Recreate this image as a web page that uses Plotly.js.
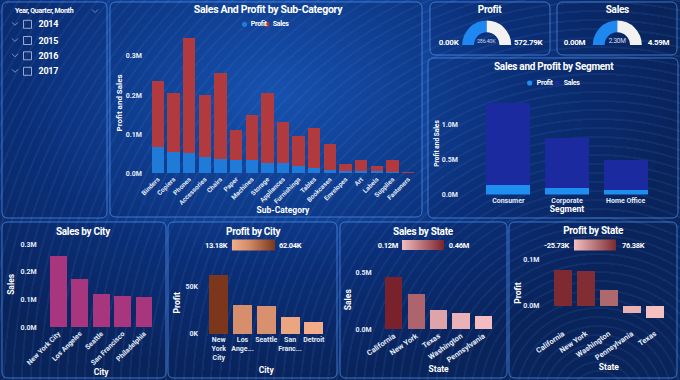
<!DOCTYPE html>
<html><head><meta charset="utf-8">
<script src="https://cdn.plot.ly/plotly-3.0.1.min.js"></script>
<style>
html,body{margin:0;padding:0;width:680px;height:380px;overflow:hidden;}
body{
  background:
    repeating-radial-gradient(circle at 88% 105%, rgba(110,170,255,0.10) 0px, rgba(110,170,255,0.10) 1.4px, rgba(0,0,0,0) 2.4px, rgba(0,0,0,0) 9px),
    radial-gradient(ellipse 60% 75% at 40% 25%, #1b5fc6 0%, #12479f 35%, #0c3480 62%, #0a275f 100%);
}
#chart{width:680px;height:380px;}
#chart .gtitle, #chart .annotation-text{letter-spacing:-0.3px;}
</style></head><body><div id="chart"></div>
<script>
// ---------------- data ----------------
const years = ['2014','2015','2016','2017'];

const subCategories = ['Binders','Copiers','Phones','Accessories','Chairs','Paper','Machines','Storage','Appliances','Furnishings','Tables','Bookcases','Envelopes','Art','Labels','Supplies','Fasteners'];
const subProfit = [68000,55000,51000,42000,36000,34000,33000,27000,26000,19000,14000,8000,7000,6000,5000,4000,1000];
const subSales  = [168000,150000,294000,157000,221000,78000,117000,178000,104000,77000,102000,67000,17000,27000,14000,30000,2400];
const subTickVals = [0,100000,200000,300000];
const subTickText = ['0.0M','0.1M','0.2M','0.3M'];

const gaugeNames = ['Profit','Sales'];
const gaugeValues = [286400, 2297200];
const gaugeMax = [572790, 4594400];

const segments = ['Consumer','Corporate','Home Office'];
const segProfit = [134000, 92000, 60000];
const segSales  = [1161000, 706000, 430000];
const segTickVals = [0,500000,1000000];
const segTickText = ['0.0M','0.5M','1.0M'];

const salesCities = ['New York City','Los Angeles','Seattle','San Francisco','Philadelphia'];
const citySales = [256370, 175850, 119540, 112670, 109080];
const citySalesTickVals = [0,100000,200000,300000];
const citySalesTickText = ['0.0M','0.1M','0.2M','0.3M'];

const profitCities = ['New York City','Los Angeles','Seattle','San Francisco','Detroit'];
const profitCityLabels = ['New<br>York<br>City','Los<br>Ange...','Seattle','San<br>Franc...','Detroit'];
const cityProfit = [62040, 30440, 29160, 17510, 13180];
const cityProfitTickVals = [0,50000];
const cityProfitTickText = ['0K','50K'];

const salesStates = ['California','New York','Texas','Washington','Pennsylvania'];
const stateSales = [457690, 310880, 170190, 138640, 116510];
const stateSalesTickVals = [0,500000];
const stateSalesTickText = ['0.0M','0.5M'];

const profitStates = ['California','New York','Washington','Pennsylvania','Texas'];
const stateProfit = [76380, 74040, 33400, -15560, -25730];
const stateProfitTickVals = [0,100000];
const stateProfitTickText = ['0.0M','0.1M'];

// ---------------- helpers ----------------
const W=680, H=380;
const FONT = 'Roboto, "Liberation Sans", sans-serif';
const WHITE = '#ffffff', TICK = '#e4ebf7';
const X = v => v/W, Y = v => 1 - v/H;
const xd = (a,b) => [a/W, b/W];
const yd = (top,bottom) => [1-bottom/H, 1-top/H];
const fmtK = v => (v/1000).toFixed(2)+'K';
const fmtM = v => (v/1e6).toFixed(2)+'M';

function rr(x0,y0,x1,y1,r){
  const a=v=>X(v).toFixed(5), b=v=>Y(v).toFixed(5);
  return `M${a(x0+r)},${b(y0)} L${a(x1-r)},${b(y0)} Q${a(x1)},${b(y0)} ${a(x1)},${b(y0+r)} L${a(x1)},${b(y1-r)} Q${a(x1)},${b(y1)} ${a(x1-r)},${b(y1)} L${a(x0+r)},${b(y1)} Q${a(x0)},${b(y1)} ${a(x0)},${b(y1-r)} L${a(x0)},${b(y0+r)} Q${a(x0)},${b(y0)} ${a(x0+r)},${b(y0)} Z`;
}
const tf = (s) => ({family:FONT, size:s, color:TICK, weight:'bold'});
const ttl = (t,s,so) => ({text:t, font:{family:FONT,size:s,color:WHITE,weight:'bold'}, standoff:so});

function ann(text,x,y,size,opts){
  return Object.assign({text, x:X(x), y:Y(y), xref:'paper', yref:'paper', showarrow:false,
    xanchor:'center', yanchor:'middle', font:{family:FONT,size,color:WHITE,weight:'bold'}}, opts||{});
}
function baseX(domain, n, o){
  return Object.assign({domain, range:[-0.5,n-0.5], showgrid:false, zeroline:false, showline:false, ticks:'', tickfont:tf(7), automargin:false, fixedrange:true}, o);
}
function baseY(domain, range, tv, tt, o){
  return Object.assign({domain, range, tickvals:tv, ticktext:tt, showgrid:false, zeroline:false, showline:false, ticks:'', tickfont:tf(7), automargin:false, fixedrange:true}, o);
}

// ---------------- traces ----------------
const traces = [];
traces.push({type:'bar', x:subCategories, y:subProfit, name:'Profit', marker:{color:'#1f7ad8'}, width:0.79, xaxis:'x', yaxis:'y', showlegend:false, hoverinfo:'skip'});
traces.push({type:'bar', x:subCategories, y:subSales, name:'Sales', marker:{color:'#b03a3e'}, width:0.79, xaxis:'x', yaxis:'y', showlegend:false, hoverinfo:'skip'});
traces.push({type:'bar', x:segments, y:segProfit, name:'Profit', marker:{color:'#1e8ff0'}, width:0.75, xaxis:'x2', yaxis:'y2', showlegend:false, hoverinfo:'skip'});
traces.push({type:'bar', x:segments, y:segSales, name:'Sales', marker:{color:'#1b2a9e'}, width:0.75, xaxis:'x2', yaxis:'y2', showlegend:false, hoverinfo:'skip'});
traces.push({type:'bar', x:salesCities, y:citySales, name:'Sales', marker:{color:'#a8367f'}, width:0.78, xaxis:'x3', yaxis:'y3', showlegend:false, hoverinfo:'skip'});
const cbase = {orientation:'h', xanchor:'left', yanchor:'middle', lenmode:'pixels', thicknessmode:'pixels', outlinewidth:0, showticklabels:false, ticks:'', xpad:0, ypad:0, borderwidth:0, bgcolor:'rgba(0,0,0,0)'};
traces.push({type:'bar', x:profitCities, y:cityProfit, name:'Profit', width:0.8, xaxis:'x4', yaxis:'y4', showlegend:false, hoverinfo:'skip',
  marker:{color:cityProfit, colorscale:[[0,'#f2ad88'],[0.4,'#d38a68'],[1,'#7b361b']], showscale:true,
    colorbar:Object.assign({}, cbase, {x:X(231.7), y:Y(245), len:42.6, thickness:11})}});
traces.push({type:'bar', x:salesStates, y:stateSales, name:'Sales', width:0.77, xaxis:'x5', yaxis:'y5', showlegend:false, hoverinfo:'skip',
  marker:{color:stateSales, colorscale:[[0,'#f2bcc0'],[1,'#7a222c']], showscale:true,
    colorbar:Object.assign({}, cbase, {x:X(402.3), y:Y(245), len:42.4, thickness:10})}});
traces.push({type:'bar', x:profitStates, y:stateProfit, name:'Profit', width:0.77, xaxis:'x6', yaxis:'y6', showlegend:false, hoverinfo:'skip',
  marker:{color:stateProfit, colorscale:[[0,'#f4c0c0'],[1,'#7d2a30']], showscale:true,
    colorbar:Object.assign({}, cbase, {x:X(573.7), y:Y(245), len:42.3, thickness:11})}});
// Gauges (half donuts): filled part starts at 9 o'clock and runs clockwise
const gaugeCenters = [[486.7,45],[617.3,45]];
const gaugeR = 24.5;
gaugeNames.forEach((g,i)=>{
  const [cx,cy] = gaugeCenters[i];
  traces.push({type:'pie', name:g, values:[gaugeValues[i], gaugeMax[i]-gaugeValues[i], gaugeMax[i]], sort:false,
    direction:'clockwise', rotation:-90, hole:0.52, textinfo:'none', hoverinfo:'skip', showlegend:false,
    marker:{colors:['#1e88f0','#f2f2f2','rgba(0,0,0,0)'], line:{width:0}},
    domain:{x:xd(cx-gaugeR, cx+gaugeR), y:yd(cy-gaugeR, cy+gaugeR)}});
});

// ---------------- shapes ----------------
const panelLine = 'rgba(80,140,230,0.75)', panelFill = 'rgba(4,22,75,0.18)';
const panels = [[2,2,107,218],[110,2,422,217],[430,2,550,55],[557,2,677,55],[428,58,678,218],
                [2,222,166,378],[168,222,337,378],[340,222,507,378],[509,222,677,378]];
const shapes = panels.map(p=>({type:'path', xref:'paper', yref:'paper', path:rr(p[0],p[1],p[2],p[3],6),
  line:{color:panelLine, width:1}, fillcolor:panelFill, layer:'below'}));
function chevron(cx,cy,w,h,col){
  return {type:'path', xref:'paper', yref:'paper',
    path:`M${X(cx-w/2)},${Y(cy-h/2)} L${X(cx)},${Y(cy+h/2)} L${X(cx+w/2)},${Y(cy-h/2)}`,
    line:{color:col, width:1}};
}
function legendDot(cx,cy,col){
  const r=2.6;
  return {type:'circle', xref:'paper', yref:'paper', x0:X(cx-r), x1:X(cx+r), y0:Y(cy+r), y1:Y(cy-r),
    fillcolor:col, line:{width:0}};
}
shapes.push(chevron(95,11,6,3,'rgba(170,190,220,0.6)'));
const yearY = [24.3, 40.5, 55.8, 71.3];
years.forEach((yv,i)=>{
  shapes.push(chevron(15,yearY[i]-0.5,6,3,'rgba(170,190,220,0.7)'));
  shapes.push({type:'rect', xref:'paper', yref:'paper', x0:X(23.5), x1:X(31.5), y0:Y(yearY[i]-4), y1:Y(yearY[i]+4),
    line:{color:'rgba(190,200,220,0.8)', width:1}, fillcolor:'rgba(0,0,0,0)'});
});
shapes.push(legendDot(244.5,24.3,'#1f7ad8'));
shapes.push(legendDot(266.8,24.3,'#b03a3e'));
shapes.push(legendDot(529.7,83,'#1e8ff0'));
shapes.push(legendDot(557.3,83,'#1b2a9e'));

// ---------------- annotations ----------------
const annotations = [];
annotations.push(ann('Year, Quarter, Month', 10, 11, 7, {xanchor:'left'}));
years.forEach((yv,i)=> annotations.push(ann(yv, 35.5, yearY[i], 9, {xanchor:'left'})));

annotations.push(ann('Profit', 248.3, 24.3, 7, {xanchor:'left'}));
annotations.push(ann('Sales', 270, 24.3, 7, {xanchor:'left'}));
annotations.push(ann('Sales and Profit by Segment', 554, 66.5, 10));
annotations.push(ann('Profit', 533.5, 83, 7, {xanchor:'left'}));
annotations.push(ann('Sales', 561, 83, 7, {xanchor:'left'}));

annotations.push(ann(gaugeNames[0], 489.7, 9.5, 10));
annotations.push(ann(gaugeNames[1], 617.3, 9.5, 10));
annotations.push(ann(fmtK(0), 448.7, 42.7, 8));
annotations.push(ann(fmtK(gaugeValues[0]), 486.7, 40.5, 5.5, {font:{family:FONT,size:5.5,color:'#c8d2e4'}}));
annotations.push(ann(fmtK(gaugeMax[0]), 528, 42.7, 8));
annotations.push(ann(fmtM(0), 574.7, 42.7, 8));
annotations.push(ann(fmtM(gaugeValues[1]), 617.3, 40.5, 6.5, {font:{family:FONT,size:6.5,color:'#d6deec'}}));
annotations.push(ann(fmtM(gaugeMax[1]), 658, 42.7, 8));

annotations.push(ann('Sales by City', 83.3, 231, 10));
annotations.push(ann('Profit by City', 253.3, 231, 10));
annotations.push(ann('Sales by State', 423, 231, 10));
annotations.push(ann('Profit by State', 593.3, 230.5, 10));

annotations.push(ann(fmtK(Math.min(...cityProfit)), 230, 245, 7.5, {xanchor:'right'}));
annotations.push(ann(fmtK(Math.max(...cityProfit)), 276, 245, 7.5, {xanchor:'left'}));
annotations.push(ann(fmtM(Math.min(...stateSales)), 400.5, 245, 7.5, {xanchor:'right'}));
annotations.push(ann(fmtM(Math.max(...stateSales)), 446.3, 245, 7.5, {xanchor:'left'}));
annotations.push(ann(fmtK(Math.min(...stateProfit)), 572, 245, 7.5, {xanchor:'right'}));
annotations.push(ann(fmtK(Math.max(...stateProfit)), 618.7, 245, 7.5, {xanchor:'left'}));

// ---------------- layout ----------------
const layout = {
  width:W, height:H, margin:{l:0,r:0,t:0,b:0, autoexpand:false},
  paper_bgcolor:'rgba(0,0,0,0)', plot_bgcolor:'rgba(0,0,0,0)',
  font:{family:FONT, color:WHITE},
  barmode:'stack', showlegend:false,
  title:{text:'Sales And Profit by Sub-Category', x:X(268), y:Y(9.5), xref:'paper', yref:'container', xanchor:'center', yanchor:'middle',
    font:{family:FONT, size:10.5, color:WHITE, weight:'bold'}},
  xaxis: baseX(xd(150,416), subCategories.length, {anchor:'y', tickangle:-45, tickfont:tf(6.5), title:ttl('Sub-Category',8.5,1)}),
  yaxis: baseY(yd(32.5,173.3), [0,360000], subTickVals, subTickText, {anchor:'x', ticklabelstandoff:7, title:ttl('Profit and Sales',8,1)}),
  xaxis2: baseX(xd(479,655), segments.length, {anchor:'y2', tickangle:0, title:ttl('Segment',8.5,2)}),
  yaxis2: baseY(yd(92.4,194.5), [0,1450000], segTickVals, segTickText, {anchor:'x2', ticklabelstandoff:20, title:ttl('Profit and Sales',6.5,1)}),
  xaxis3: baseX(xd(47.6,154.7), salesCities.length, {anchor:'y3', tickangle:-45, tickfont:tf(7), title:ttl('City',8.5,0)}),
  yaxis3: baseY(yd(241.4,327.3), [0,310000], citySalesTickVals, citySalesTickText, {anchor:'x3', ticklabelstandoff:10, title:ttl('Sales',8.5,4)}),
  xaxis4: baseX(xd(206.9,325.7), profitCities.length, {anchor:'y4', tickangle:0, tickvals:profitCities, ticktext:profitCityLabels, tickfont:tf(7), title:ttl('City',8.5,5)}),
  yaxis4: baseY(yd(271.6,334), [0,66000], cityProfitTickVals, cityProfitTickText, {anchor:'x4', ticklabelstandoff:8, title:ttl('Profit',8.5,3)}),
  xaxis5: baseX(xd(382.6,494.7), salesStates.length, {anchor:'y5', tickangle:-35, tickfont:tf(7.5), title:ttl('State',8.5,2)}),
  yaxis5: baseY(yd(270,329.3), [0,520000], stateSalesTickVals, stateSalesTickText, {anchor:'x5', ticklabelstandoff:10, title:ttl('Sales',8.5,1.5)}),
  xaxis6: baseX(xd(551.5,666.2), profitStates.length, {anchor:'y6', tickangle:-35, tickfont:tf(7.5), title:ttl('State',8.5,2)}),
  yaxis6: baseY(yd(259.3,327), [-45000,100000], stateProfitTickVals, stateProfitTickText, {anchor:'x6', ticklabelstandoff:11, title:ttl('Profit',8.5,0)}),
  shapes, annotations
};

Plotly.newPlot('chart', traces, layout, {staticPlot:true, displayModeBar:false});
</script></body></html>
